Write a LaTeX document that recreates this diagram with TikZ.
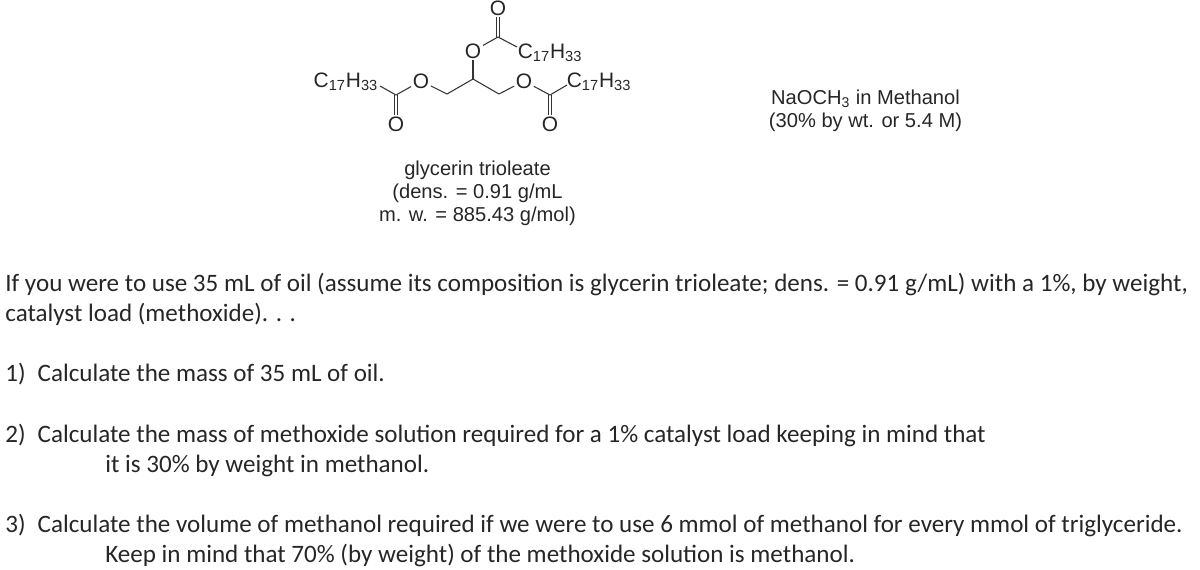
\documentclass[tikz,border=0pt]{standalone}
\usepackage{fontspec}
\setmainfont{Carlito}
\newfontfamily\chemfont{Liberation Sans}
\tikzset{>=stealth}
\tikzset{atom/.style={font=\chemfont\fontsize{11.9}{12}\selectfont, inner sep=0.8pt, text=black!85},
  chemlabel/.style={font=\chemfont\fontsize{11.45}{13}\selectfont, align=center, inner sep=0pt, text=black!85},
  bond/.style={line width=0.6pt, black!80},
  body/.style={font=\fontsize{14.27}{16}\selectfont, anchor=base west, inner sep=0pt, text=black!85}}
\newcommand{\chain}{C\textsubscript{17}H\textsubscript{33}}
\begin{document}
\begin{tikzpicture}[x=0.02cm,y=-0.02cm]
\useasboundingbox (0,0) rectangle (1200,569);
% glyceride skeleton
\coordinate (ch) at (473,79);
\coordinate (chl) at (447,94);
\coordinate (chr) at (499,94);
\coordinate (cl) at (396,95);
\coordinate (cr) at (550,95);
\coordinate (ct) at (498,37);
\coordinate (rlend) at (380,86);
\coordinate (rrend) at (567,85);
\coordinate (rtend) at (517,47);
\node[atom] (ol) at (421,81) {O};
\node[atom] (or) at (524,81) {O};
\node[atom] (ot) at (473,51) {O};
\node[atom] (odl) at (396,124) {O};
\node[atom] (odr) at (550,124) {O};
\node[atom] (odt) at (498,8) {O};
\node[atom, anchor=east] (rl) at (380,82) {\chain};
\node[atom, anchor=west] (rr) at (565,82) {\chain};
\node[atom, anchor=west] (rt) at (516,53) {\chain};
\draw[bond] (ot) -- (ch);
\draw[bond] (ch) -- (chl) -- (ol);
\draw[bond] (ch) -- (chr) -- (or);
\draw[bond] (ol) -- (cl) -- (rlend);
\draw[bond] (or) -- (cr) -- (rrend);
\draw[bond] (ot) -- (ct) -- (rtend);
\foreach \c/\o in {cl/odl,cr/odr,ct/odt}
{
\draw[bond, transform canvas={xshift=-1.1pt}] (\c) -- (\o);
\draw[bond, transform canvas={xshift=1.1pt}] (\c) -- (\o);
}
% labels
\node[chemlabel] (oil) at (477.5,193.5) {glycerin trioleate\\(dens. = 0.91 g/mL\\m. w. = 885.43 g/mol)};
\node[chemlabel] (cat) at (865.5,110.5) {NaOCH\textsubscript{3} in Methanol\\(30\% by wt. or 5.4 M)};
% question text
\node[body] (l1) at (5,291) {If you were to use 35 mL of oil (assume its composition is glycerin trioleate; dens. = 0.91 g/mL) with a 1\%, by weight,};
\node[body] (l2) at (5,321) {catalyst load (methoxide). . .};
\node[body] (q1) at (5,381) {1)\hspace{0.48em}Calculate the mass of 35 mL of oil.};
\node[body] (q2) at (5,442) {2)\hspace{0.48em}Calculate the mass of methoxide solution required for a 1\% catalyst load keeping in mind that};
\node[body] (q2b) at (105,472) {it is 30\% by weight in methanol.};
\node[body] (q3) at (5,532) {3)\hspace{0.48em}Calculate the volume of methanol required if we were to use 6 mmol of methanol for every mmol of triglyceride.};
\node[body] (q3b) at (105,562) {Keep in mind that 70\% (by weight) of the methoxide solution is methanol.};
\end{tikzpicture}
\end{document}
